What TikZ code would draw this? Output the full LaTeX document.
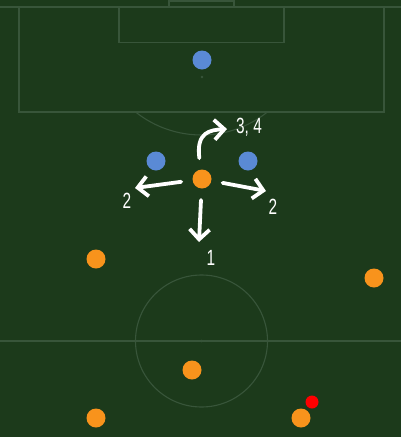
\documentclass[tikz,border=0pt]{standalone}
\usepackage{fontspec}
\newfontfamily\numfont[FakeStretch=0.7]{Liberation Sans}
\usetikzlibrary{arrows.meta}

\definecolor{grass}{HTML}{1C3A1B}
\definecolor{chalk}{HTML}{38553A}
\definecolor{attack}{HTML}{F8931C}
\definecolor{defend}{HTML}{5A8AD5}
\definecolor{ballred}{HTML}{FF0000}

\tikzset{
  player/.style = {circle, fill = #1, minimum size = 19pt, inner sep = 0pt, outer sep = 0pt},
  run/.style = {white, line width = 3.8pt, line cap = round, line join = round,
    -{Straight Barb[length = 10pt, width = 20pt]}, shorten <= 11.5pt},
  pitchline/.style = {chalk, line width = 1.1pt},
  num/.style = {white, font = \numfont\fontsize{22}{22}\selectfont}
}

\begin{document}
\begin{tikzpicture}[x = 1pt, y = -1pt]
\useasboundingbox (0, 0) rectangle (401, 437);
\fill [grass] (0, 0) rectangle (401, 437);
%\draw [very thin, color = gray, step = 50](0, 0) grid (401, 437);
% pitch markings
\draw [pitchline] (0, 7) to (401, 7);
\draw [pitchline] (169, 7) -- (169, 1) -- (234, 1) -- (234, 7);
\draw [pitchline] (19, 7) rectangle (384, 112);
\draw [pitchline] (119, 7) rectangle (284, 42.5);
\fill [chalk] (202, 77) circle [radius = 1.3];
\begin{scope}
\clip (0, 112) rectangle (401, 437);
\draw [pitchline] (201.5, 29) circle [radius = 106];
\end{scope}
\draw [pitchline] (0, 341) to (401, 341);
\draw [pitchline] (201.5, 341) circle [radius = 66];
\fill [chalk] (201.5, 341) circle [radius = 1.3];
% players
\node [player = defend] (keeper) at (202, 60) {};
\node [player = defend] (cbl) at (156, 161) {};
\node [player = defend] (cbr) at (248, 161) {};
\node [player = attack] (mid) at (202, 179) {};
\node [player = attack] (wingl) at (96, 259) {};
\node [player = attack] (wingr) at (374, 278) {};
\node [player = attack] (dm) at (192, 370) {};
\node [player = attack] (backl) at (96, 418) {};
\node [player = attack] (backr) at (301, 418) {};
\node [circle, fill = ballred, minimum size = 13pt, inner sep = 0pt] (ball) at (312, 402) {};
% options
\coordinate (go1) at (199, 242);
\coordinate (go2l) at (135, 188);
\coordinate (go2r) at (266, 191);
\coordinate (go34) at (227, 129);
\draw [run] (mid) -- (go1);
\draw [run] (mid) -- (go2l);
\draw [run] (mid) -- (go2r);
\draw [run] (mid) .. controls (196, 132) and (210, 130) .. (go34);
\node [num] (lab1) at (211, 258) {1};
\node [num] (lab2l) at (127, 201) {2};
\node [num] (lab2r) at (273, 207) {2};
\node [num] (lab34) at (249, 127) {3, 4};
\end{tikzpicture}
\end{document}
